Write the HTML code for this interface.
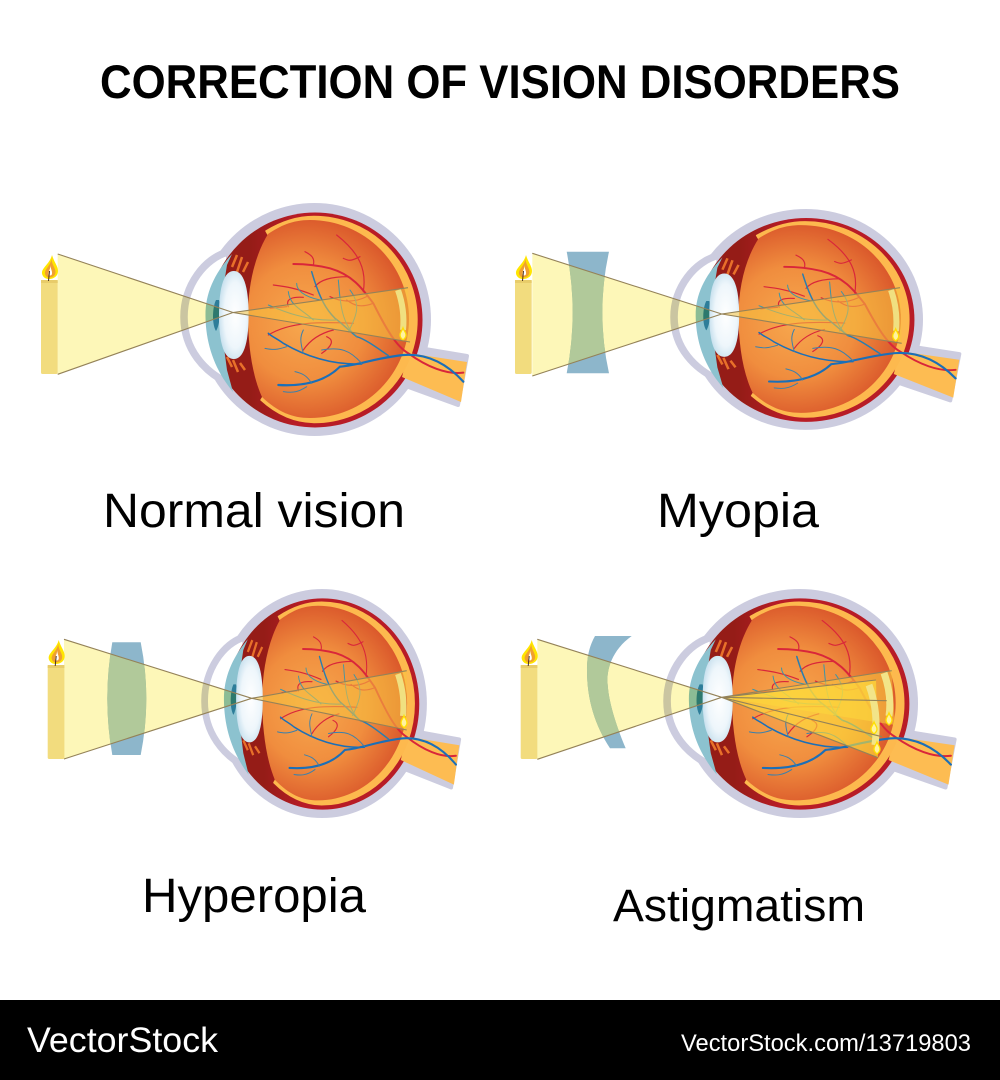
<!DOCTYPE html>
<html><head><meta charset="utf-8"><title>Correction of vision disorders</title>
<style>html,body{margin:0;padding:0;background:#fff}svg{display:block}
.t{font-family:"Liberation Sans",sans-serif}</style></head>
<body>
<svg width="1000" height="1080" viewBox="0 0 1000 1080" xmlns="http://www.w3.org/2000/svg">
<defs>
<radialGradient id="ret" gradientUnits="userSpaceOnUse" cx="305" cy="322" r="108">
<stop offset="0" stop-color="#f7a84e"/><stop offset=".55" stop-color="#f08d3e"/><stop offset="1" stop-color="#d9552a"/></radialGradient>
<linearGradient id="wall" gradientUnits="userSpaceOnUse" x1="250" y1="0" x2="295" y2="0">
<stop offset="0" stop-color="#951c17"/><stop offset="1" stop-color="#b81c26"/></linearGradient>
<radialGradient id="lensG" cx=".55" cy=".5" r=".62">
<stop offset="0" stop-color="#ffffff"/><stop offset=".6" stop-color="#eef6fb"/><stop offset="1" stop-color="#bcdaea"/></radialGradient>
<g id="back">
<circle cx="314.500" cy="319.500" r="116.500" fill="#ccccdf"/>
<path d="M226 253C205 258 184 285 184 317C184 350 205 372 226 382Z" fill="#fff"/>
<path d="M228 252C205 258 184 285 184 317C184 350 205 372 228 383" fill="none" stroke="#ccccdf" stroke-width="7.500"/>
<path d="M413 347L467 356L458 405L403 385Z" fill="#ccccdf" stroke="#ccccdf" stroke-width="4" stroke-linejoin="round"/>
<circle cx="315" cy="320" r="107.500" fill="url(#wall)"/>
<path d="M408 353L467 362L461 402L402 377Z" fill="#fdbc52"/>
<path d="M232 254C213 275 205 295 205.500 317C206 345 215 370 233 392L227 370L223 340L223 290L227 265Z" fill="#8cc2cf"/>
<path d="M216 300C212 308 212 325 216 331C220 325 221 308 219 300Z" fill="#2d7d99"/>
<path d="M237 255L232 267M242 257L237 272M248 262L243 272M227 357L232 367M233 360L238 372M240 363L245 370" stroke="#e8702a" stroke-width="2.500" fill="none"/>
<path d="M266 231Q290 216.500 314 216.500A103 103 0 0 1 314 422.500Q285 422 261 400L266 392L310 400L310 240L270 238Z" fill="#fdb94e" stroke="#fdb94e" stroke-width="1.500" stroke-linejoin="round"/>
<path d="M268 234C255 255 248 285 248 315C248 345 252 375 262 397C278 412 292 418 310 418A99 99 0 0 0 310 220C292 220 280 226 268 234Z" fill="url(#ret)"/>
<g transform="translate(20 190) scale(.33333)" fill="none" stroke-linecap="round">
<g stroke="#d9263a" stroke-width="3.500">
<path d="M1330 548C1280 555 1220 530 1165 490C1130 470 1100 420 1060 340C1030 300 1000 255 930 235C890 225 860 222 820 222" stroke-width="6"/>
<path d="M1030 305C1040 240 1020 190 950 135M1020 200C990 215 985 212 970 205M880 225C885 205 875 195 855 185M985 260C930 260 900 270 885 290M880 315C830 295 800 290 760 285M1040 320C1000 340 960 335 930 320M805 350C795 325 820 320 850 322M1000 400C900 395 810 395 745 435M940 420C900 430 870 450 850 480M920 440C945 450 935 470 905 490M800 350L750 355M1060 340C1020 355 1000 345 980 330"/>
</g>
<g stroke="#1b6fb8" stroke-width="3">
<path d="M1330 575C1280 520 1220 490 1150 495C1060 505 1020 525 960 530C920 570 860 590 775 585" stroke-width="6.500"/>
<path d="M1025 522C930 525 850 495 790 460C770 445 755 440 745 430" stroke-width="4.500"/>
<path d="M1105 497C1060 465 1030 445 1010 440C980 415 960 395 945 385C920 360 900 330 875 245" stroke-width="4.500" stroke="#2a7eb0"/>
<path d="M1010 440C960 400 960 320 955 270" stroke="#3d95a8"/>
<path d="M985 425C1015 370 1020 340 990 300M950 390C860 395 780 360 745 345M900 330C850 320 830 300 830 280M880 390C850 360 810 350 805 305" stroke="#3d95a8"/>
<path d="M1025 520C990 480 960 470 905 480M850 490C840 455 840 440 850 420M800 470C770 480 760 480 735 475M875 580C860 555 845 550 825 545M860 590C830 610 810 608 790 605" stroke="#3a80ad"/>
</g>
</g>
</g>
<path id="lens" d="M233.800 271C243 271 248.600 285 248.600 315C248.600 345 243 359 233.800 359C224.600 359 219 345 219 315C219 285 224.600 271 233.800 271Z" fill="url(#lensG)"/>
<g id="candle">
<rect x="41" y="280" width="16.700" height="94" rx="1.500" fill="#f2dc7e"/>
<rect x="41" y="280" width="16.700" height="3" fill="#e8cc6a"/>
<path d="M52 255C54 262 58 266 58 271C58 276 54 279 49 279C44 279 41.500 275 42 272C43 267 50 263 52 255Z" fill="#ffe500"/>
<path d="M51.500 259C52 265 55.500 268 55.500 272C55.500 276 52 277.500 49 277.500C46 277.500 44.500 274 45 272C46 268 50.500 265 51.500 259Z" fill="#f0a030"/>
<path d="M50.500 265C50.500 269 52.500 271 52 274C51.500 276 48.500 276 48.500 274C48.500 271 50.500 269 50.500 265Z" fill="#fff"/>
<path d="M49.500 271L48.500 281" stroke="#4a3020" stroke-width="1" fill="none"/>
</g>
<path id="mflame" d="M0 -6C1 -3 3 -2 3 1C3 4 1 5 0 6C-1 5 -3 4 -3 1C-3 -2 -1 -3 0 -6Z" fill="#fff2a0" stroke="#ffdf00" stroke-width="1.300"/>
<clipPath id="c2"><polygon points="532.300,253.300 721.700,314 532.300,376"/></clipPath>
<clipPath id="c3"><polygon points="64,639.300 251.700,698.300 64,759"/></clipPath>
<clipPath id="c4"><polygon points="537.300,639.300 721.700,697.300 537.300,759.300"/></clipPath>
<path id="l2" d="M566.700 251.700H609Q595.600 312.500 609 373.300H566.700Q578.700 312.500 566.700 251.700Z"/>
<path id="l3" d="M112.300 642.300H140.700Q151.900 698.600 140.700 755H112.300Q102.300 698.600 112.300 642.300Z"/>
<path id="l4" d="M595 636H631.700C612 650 606 670 607.700 685C609 705 618 730 625.700 748.300H610C595 725 587 700 587 670C587 655 590 645 595 636Z"/>
</defs>
<rect width="1000" height="1080" fill="#fff"/>
<text class="t" x="100" y="98" font-size="47" font-weight="700" textLength="800" lengthAdjust="spacingAndGlyphs">CORRECTION OF VISION DISORDERS</text>

<!-- Panel 1 -->
<use href="#back"/>
<polygon points="57.700,254 233,312.500 57.700,374.300" fill="#fdf7b8" style="mix-blend-mode:multiply"/>
<use href="#lens"/>
<polygon points="233,312.500 408,287.700 410,342" fill="#f8c440" opacity=".55"/>
<path d="M398 290Q405 310 403 330" fill="none" stroke="#f0e080" stroke-width="6"/>
<use href="#mflame" x="403" y="334"/>
<path d="M57.700 254L233 312.500L410 342M57.700 374.300L233 312.500L408 287.700" fill="none" stroke="#948258" stroke-width="1.100"/>
<use href="#candle"/>
<text class="t" x="103" y="527" font-size="48" textLength="302" lengthAdjust="spacingAndGlyphs">Normal vision</text>

<!-- Panel 2 -->
<use href="#back" transform="translate(670 209) scale(1.008 .948) translate(-180 -203)"/>
<use href="#l2" fill="#8db6cb"/>
<polygon points="532.300,253.300 721.700,314 532.300,376" fill="#fdf7b8" style="mix-blend-mode:multiply"/>
<use href="#l2" fill="#b1c99a" clip-path="url(#c2)"/>
<use href="#lens" transform="translate(670 209) scale(1.008 .948) translate(-180 -203)"/>
<polygon points="721.700,314 900,287.700 901.700,343.300" fill="#f8c440" opacity=".55"/>
<path d="M891 290Q898 310 896 331" fill="none" stroke="#f0e080" stroke-width="6"/>
<use href="#mflame" x="895.700" y="335"/>
<path d="M532.300 253.300L721.700 314L901.700 343.300M532.300 376L721.700 314L900 287.700" fill="none" stroke="#948258" stroke-width="1.100"/>
<use href="#candle" transform="translate(474 0)"/>
<text class="t" x="657" y="527" font-size="48" textLength="162" lengthAdjust="spacingAndGlyphs">Myopia</text>

<!-- Panel 3 -->
<use href="#back" transform="translate(201 589) scale(.9 .983) translate(-180 -203)"/>
<use href="#l3" fill="#8db6cb"/>
<polygon points="64,639.300 251.700,698.300 64,759" fill="#fdf7b8" style="mix-blend-mode:multiply"/>
<use href="#l3" fill="#b1c99a" clip-path="url(#c3)"/>
<use href="#lens" transform="translate(201 589) scale(.9 .983) translate(-180 -203)"/>
<polygon points="251.700,698.300 406.700,670.700 406.700,730" fill="#f8c440" opacity=".55"/>
<path d="M398 674Q405 695 403 716" fill="none" stroke="#f0e080" stroke-width="6"/>
<use href="#mflame" x="404" y="721.700"/>
<path d="M64 639.300L251.700 698.300L406.700 730M64 759L251.700 698.300L406.700 670.700" fill="none" stroke="#948258" stroke-width="1.100"/>
<use href="#candle" transform="translate(6.700 385)"/>
<text class="t" x="142" y="912" font-size="48" textLength="224" lengthAdjust="spacingAndGlyphs">Hyperopia</text>

<!-- Panel 4 -->
<use href="#back" transform="translate(663 589) scale(1.016 .983) translate(-180 -203)"/>
<use href="#l4" fill="#8db6cb"/>
<polygon points="537.300,639.300 721.700,697.300 537.300,759.300" fill="#fdf7b8" style="mix-blend-mode:multiply"/>
<use href="#l4" fill="#b1c99a" clip-path="url(#c4)"/>
<use href="#lens" transform="translate(663 589) scale(1.016 .983) translate(-180 -203)"/>
<polygon points="721.700,697.300 891.700,670.700 895,725" fill="#f8c440" opacity=".6"/>
<polygon points="721.700,697.300 876,680 878,757.700" fill="#ffe23a" opacity=".6"/>
<path d="M884 673Q892 695 889 716" fill="none" stroke="#f2e488" stroke-width="7"/>
<path d="M869 685Q879 712 875 745" fill="none" stroke="#f2e488" stroke-width="7"/>
<use href="#mflame" x="889" y="719"/>
<use href="#mflame" x="874" y="728"/>
<use href="#mflame" x="877" y="748"/>
<path d="M537.300 639.300L721.700 697.300L878 757.700M537.300 759.300L721.700 697.300L891.700 670.700M721.700 697.300L876 680M721.700 697.300L886.700 700.700M721.700 697.300L882 736.700" fill="none" stroke="#948258" stroke-width="1.100"/>
<use href="#candle" transform="translate(479.700 385)"/>
<text class="t" x="613" y="921" font-size="45" textLength="252" lengthAdjust="spacingAndGlyphs">Astigmatism</text>

<!-- Footer -->
<rect x="0" y="1000" width="1000" height="80" fill="#000"/>
<text class="t" x="27" y="1052" font-size="35" fill="#fff" textLength="191" lengthAdjust="spacingAndGlyphs">VectorStock</text>
<text class="t" x="681" y="1051" font-size="24" fill="#fff" textLength="290" lengthAdjust="spacingAndGlyphs">VectorStock.com/13719803</text>
</svg>
</body></html>
